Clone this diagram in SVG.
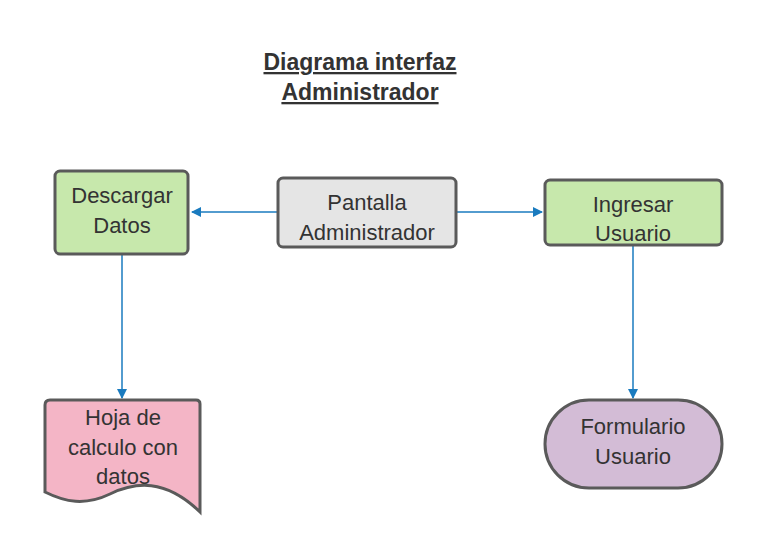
<svg xmlns="http://www.w3.org/2000/svg" width="768" height="556" viewBox="0 0 768 556">
<defs><marker id="a" markerWidth="10" markerHeight="10" refX="9" refY="5" orient="auto" markerUnits="userSpaceOnUse"><path d="M0,0 L10,5 L0,10 Z" fill="#1a7bbf"/></marker>
<style>.t{font-family:"Liberation Sans",Arial,sans-serif;font-size:22px;fill:#333;text-anchor:middle}.b{stroke:#5a5a5a;stroke-width:3}.c{stroke:#1a7bbf;stroke-width:1.5;fill:none;marker-end:url(#a)}</style></defs>
<rect width="768" height="556" fill="#fff"/>
<g id="title"><text x="360" y="70" class="t" style="font-weight:bold;font-size:23px;text-decoration:underline">Diagrama interfaz</text><text x="360" y="100" class="t" style="font-weight:bold;font-size:23px;text-decoration:underline">Administrador</text></g>
<g id="conn"><path class="c" d="M277,212 H192"/><path class="c" d="M457,212 H542"/><path class="c" d="M122,255 V398"/><path class="c" d="M633,246 V398"/></g>
<g id="pantalla"><rect x="278" y="178" width="178" height="69" rx="5" fill="#e5e5e5" class="b"/><text x="367" y="210" class="t">Pantalla</text><text x="367" y="240" class="t">Administrador</text></g>
<g id="descargar"><rect x="55" y="171" width="133" height="83" rx="5" fill="#c7e8ac" class="b"/><text x="122" y="203" class="t">Descargar</text><text x="122" y="233" class="t">Datos</text></g>
<g id="ingresar"><rect x="545" y="180" width="177" height="65" rx="5" fill="#c7e8ac" class="b"/><text x="633" y="212" class="t">Ingresar</text><text x="633" y="241" class="t">Usuario</text></g>
<g id="hoja"><path d="M50,400 H196 Q200,400 200,404 V512 C165,478 135,482 110,494 C85,506 65,502 45,492 V405 Q45,400 50,400 Z" fill="#f4b5c6" class="b"/><text x="123" y="425" class="t">Hoja de</text><text x="123" y="455" class="t">calculo con</text><text x="123" y="484" class="t">datos</text></g>
<g id="formulario"><rect x="545" y="400" width="177" height="88" rx="44" fill="#d3bcd6" class="b"/><text x="633" y="434" class="t">Formulario</text><text x="633" y="464" class="t">Usuario</text></g>
</svg>
